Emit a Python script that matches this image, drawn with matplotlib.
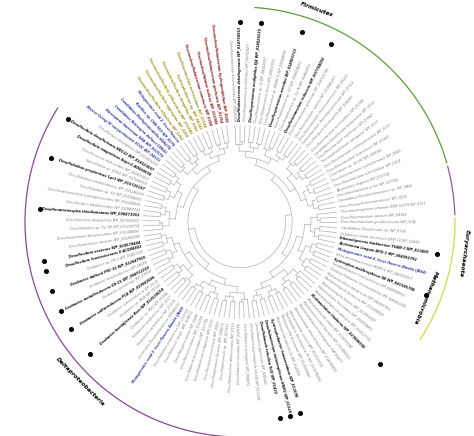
import numpy as np
import matplotlib
matplotlib.use('Agg')
import matplotlib.pyplot as plt

# leaves clockwise from top; style: g grey, b bold black, u blue, y olive, r dark red
leaves = [
    ("Desulfotomaculum alcoholivorax WP_05526306", "g", 0),
    ("Desulfitobacterium dehalogenans WP_014794563", "b", 1),
    ("Desulfosporosinus acididurans WP_04761427", "g", 0),
    ("Desulfosporosinus acidiphilus SJ4 WP_014826530", "b", 1),
    ("Desulfosporosinus sp. I2 WP_04382007", "g", 0),
    ("Desulfosporosinus lacus WP_04657355", "g", 0),
    ("Desulfosporosinus sp. BICA1-9 WP_05664630", "g", 0),
    ("Desulfosporosinus meridiei WP_014903733", "b", 1),
    ("Desulfosporosinus sp. OT WP_009624660", "g", 0),
    ("Desulfosporosinus sp. Tol-M WP_05460815", "g", 0),
    ("Desulfotomaculum reducens WP_007784050", "b", 1),
    ("Desulfotomaculum gibsoniae WP_006521785", "g", 0),
    ("Desulfotomaculum ruminis WP_013841257", "g", 0),
    ("Desulfotomaculum thermocisternum WP_05362", "g", 0),
    ("Pelotomaculum thermopropionicum WP_01212", "g", 0),
    ("Desulfurispora thermophila WP_018085", "g", 0),
    ("Desulfotomaculum acetoxidans WP_01584", "g", 0),
    ("Candidatus Desulforudis audaxviator WP_0123", "g", 0),
    ("Desulfotomaculum nigrificans WP_00362", "g", 0),
    ("Thermodesulfobium narugense WP_0137", "g", 0),
    ("Desulfotomaculum carboxydivorans WP_0137", "g", 0),
    ("Desulfotomaculum kuznetsovii WP_01381", "g", 0),
    ("Clostridium sp. DL-VIII WP_009166", "g", 0),
    ("Desulfotomaculum hydrothermale WP_0083", "g", 0),
    ("Desulfotomaculum alkaliphilum WP_0314", "g", 0),
    ("Ammonifex degensii WP_015738", "g", 0),
    ("Desulfotomaculum putei WP_027356", "g", 0),
    ("Candidatus Desulfotomaculum sp. WP_0462", "g", 0),
    ("Desulfovirgula thermocuniculi WP_0272", "g", 0),
    ("Thermacetogenium phaeum DSM 12270 WP_0151", "g", 0),
    ("Desulfotomaculum salinum WP_04386", "g", 0),
    ("Desulfotomaculum geothermicum WP_0145", "g", 0),
    ("Candidatus Desulforudis sp. WP_0134", "g", 0),
    ("Dehalococcoidia bacterium DSM 10 WP_03480", "g", 0),
    ("Ethanoligenens harbinense YUAN-3 WP_013485", "b", 1),
    ("Acetonema longum APO-1 WP_004093792", "b", 0),
    ("Metagenomic read 4, frost flowers Alaska (JB44)", "u", 0),
    ("delta proteobacterium MLMS-1 WP_040886017", "g", 0),
    ("Syntrophus aciditrophicus SB WP_041585788", "b", 1),
    ("Geoalkalibacter ferrihydriticus WP_040098053", "g", 0),
    ("Geopsychrobacter electrodiphilus WP_026362285", "g", 0),
    ("Methanoculleus bavaricum WP_042697303", "g", 0),
    ("Methanoregula formicica WP_015284970", "g", 0),
    ("Methanoregula boonei WP_011991429", "g", 0),
    ("Methanofollis liminatans WP_004039402", "g", 0),
    ("Methanosphaerula palustris WP_012617701", "g", 0),
    ("Methanolobus tindarius WP_023846500", "b", 1),
    ("Methanosarcina mazei WP_011033144", "g", 0),
    ("Methanococcoides burtonii WP_011499763", "g", 0),
    ("Methanohalobium evestigatum GAF20477", "g", 0),
    ("Methanosaeta harundinacea WP_014586470", "g", 0),
    ("Methanosaeta concilii WP_013719705", "g", 0),
    ("Methanothrix thermophila PT WP_011696252", "g", 0),
    ("Methanocella arvoryzae WP_012035946", "g", 0),
    ("Methanocella paludicola WP_012900", "g", 0),
    ("Syntrophobacter fumaroxidans WP_011698", "b", 1),
    ("Desulfobacterium autotrophicum HRM2 WP_01528", "b", 1),
    ("Desulfobacula toluolica Tol2 WP_01432", "b", 1),
    ("Desulfobulbus japonicus WP_028580", "g", 0),
    ("Desulfotalea psychrophila LSv54 WP_011189", "g", 0),
    ("Desulfobacter postgatei WP_004073", "g", 0),
    ("Desulfobacter curvatus WP_028586", "g", 0),
    ("Desulfatibacillum alkenivorans WP_0159", "g", 0),
    ("Desulfobacterium sp. WP_027352", "g", 0),
    ("Desulfonatronum lacustre WP_028571", "g", 0),
    ("Desulfocurvus vexinensis WP_0283", "g", 0),
    ("Desulfohalobium retbaense WP_0153", "g", 0),
    ("Desulfobacca acetoxidans WP_013706", "g", 0),
    ("Desulfarculus baarsii WP_013258", "g", 0),
    ("Desulfatiglans anilini WP_0284", "g", 0),
    ("Desulfomonile tiedjei WP_014811", "g", 0),
    ("Desulfobulbus propionicus WP_015723", "g", 0),
    ("Metagenomic read 3, frost flowers Alaska (JB43)", "u", 0),
    ("uncultured Desulfobacterium CBX44333", "g", 0),
    ("Pelobacter carbinolicus WP_01139", "g", 0),
    ("Pelobacter propionicus WP_0117", "g", 0),
    ("Geobacter sp. M21 WP_01586", "g", 0),
    ("Geobacter bemidjiensis Bem WP_012530014", "b", 1),
    ("Geobacter sp. M18 WP_01337", "g", 0),
    ("Geobacter uraniireducens WP_0119", "g", 0),
    ("Geobacter sulfurreducens PCA WP_010942086", "b", 1),
    ("Geobacter pickeringii WP_03934", "g", 0),
    ("Geobacter metallireducens GS-15 WP_004512239", "b", 1),
    ("Geobacter anodireducens WP_04358", "g", 0),
    ("Geobacter daltonii FRC-32 WP_012647965", "b", 1),
    ("Geobacter sp. OR-1 WP_03457321", "g", 0),
    ("Desulfovibrio fructosivorans X ACO88803", "b", 1),
    ("Desulfovibrio zosterae WP_028578444", "b", 1),
    ("Desulfonatronum lacustre WP_035282080", "g", 0),
    ("Desulfonatronum thiodismutans WP_031388656", "g", 0),
    ("Desulfobulbus sp. Tol-SR WP_035230754", "g", 0),
    ("Desulfurivibrio alkaliphilus WP_027389022", "g", 0),
    ("Desulfonatronospira thiodismutans WP_008871053", "b", 1),
    ("Desulfovibrio alkalitolerans WP_020887725", "g", 0),
    ("Desulfonatronovibrio hydrogenovorans WP_035244625", "g", 0),
    ("Desulfobulbus sp. X2 WP_035044335", "g", 0),
    ("Desulfobulbus mediterraneus WP_035246209", "g", 0),
    ("Desulfobulbus propionicus 1pr3 WP_015725167", "b", 1),
    ("Spirochaeta sp. JC202 WP_037564359", "g", 0),
    ("Desulfococcus multivorans WP_020875937", "g", 0),
    ("Desulfovibrio magneticus Aspo-2 AD060658", "b", 0),
    ("Desulfovibrio desulfuricans ND132 WP_014323697", "b", 1),
    ("Desulfovibrio piezophilus WP_015415229", "g", 0),
    ("Marine Group III euryarchaeote SCGC WP_04331", "u", 0),
    ("Nitrospirae bacterium UBA WP_032570", "u", 0),
    ("Candidatus Nitrospira defluvii CBK41", "u", 0),
    ("Candidatus Methylomirabilis KON278", "u", 0),
    ("Bacillus sp. CN0-509 WP_0278", "u", 0),
    ("Metagenomic read 2, frost flowers", "u", 0),
    ("Thermodesulfovibrio islandicus WP_0282", "y", 0),
    ("Thermodesulfovibrio aggregans WP_0284", "y", 0),
    ("Thermodesulfovibrio yellowstonii WP_012546", "y", 0),
    ("Thermodesulfovibrio thiophilus WP_0282", "y", 0),
    ("Syntrophobacter sp. WP_04345", "y", 0),
    ("Desulfotomaculum acetoxidans WP_01584", "y", 0),
    ("Thermodesulfobacterium commune WP_0308", "r", 0),
    ("Thermodesulfatator indicus WP_013906", "r", 0),
    ("Thermodesulfobacterium geofontis WP_01354", "r", 0),
    ("Thermodesulfobacterium hydrogeniphilum WP_0185", "r", 0),
]
# clade arcs: (start angle, end angle, colour, label, label angle)
arcs = [
    (86, 16, "#5a9e3c", "Firmicutes", 70),
    (15, 2, "#8a5a9e", "", 0),
    (1, -33, "#d6d64a", "Euryarchaeota", -8),
    (-93, -212, "#8a4a92", "Deltaproteobacteria", -135),
]
sub_labels = [("Methanomicrobia", -22, 0.93)]

colors = {"g": "#808080", "b": "#111111", "u": "#3340a0", "y": "#a09420", "r": "#8b1a1a"}

fig = plt.figure(figsize=(4.74, 4.36), dpi=100)
ax = fig.add_axes([0, 0, 1, 1])
ax.set_xlim(-240 / 215, 234 / 215)
ax.set_ylim(-214 / 215, 222 / 215)
ax.axis('off')

n = len(leaves)
start, span = 93.0, 358.0
ang = start - np.arange(n) * span / n
r_leaf = 0.45

# simple nested tree drawn from leaf angles
def draw(lo, hi):
    if hi - lo == 1:
        return ang[lo], r_leaf
    mid = (lo + hi) // 2
    a1, r1 = draw(lo, mid)
    a2, r2 = draw(mid, hi)
    rn = max(0.17, 0.42 - 0.03 * np.log2(hi - lo + 1))
    for a, rc in ((a1, r1), (a2, r2)):
        t = np.deg2rad(a)
        ax.plot([rn * np.cos(t), rc * np.cos(t)], [rn * np.sin(t), rc * np.sin(t)], color="#aaaaaa", lw=0.45)
    tt = np.deg2rad(np.linspace(a1, a2, 40))
    ax.plot(rn * np.cos(tt), rn * np.sin(tt), color="#aaaaaa", lw=0.45)
    return (a1 + a2) / 2, rn

draw(0, n)

for (name, st, dot), a in zip(leaves, ang):
    t = np.deg2rad(a)
    x, y = 0.47 * np.cos(t), 0.47 * np.sin(t)
    right = -90 <= ((a + 180) % 360 - 180) <= 90
    rot = a if right else a + 180
    ax.text(x, y, name, rotation=rot, rotation_mode='anchor', ha='left' if right else 'right',
            va='center', fontsize=2.45, style='italic', color=colors[st],
            fontweight='bold' if st != 'g' else 'normal')
    if dot:
        ax.plot(0.93 * np.cos(t), 0.93 * np.sin(t), 'o', color='black', ms=2.6)

for a0, a1, c, lab, la in arcs:
    tt = np.deg2rad(np.linspace(a0, a1, 200))
    ax.plot(np.cos(tt), np.sin(tt), color=c, lw=0.9)
    if lab:
        t = np.deg2rad(la)
        rot = la - 90 if la > -90 else la + 90
        ax.text(1.05 * np.cos(t), 1.05 * np.sin(t), lab, rotation=rot, ha='center', va='center',
                fontsize=4.2, fontweight='bold', style='italic')
for lab, la, rr in sub_labels:
    t = np.deg2rad(la)
    ax.text(rr * np.cos(t), rr * np.sin(t), lab, rotation=la - 90, ha='center', va='center',
            fontsize=4.2, fontweight='bold', style='italic')

fig.savefig('out.png', dpi=100)
